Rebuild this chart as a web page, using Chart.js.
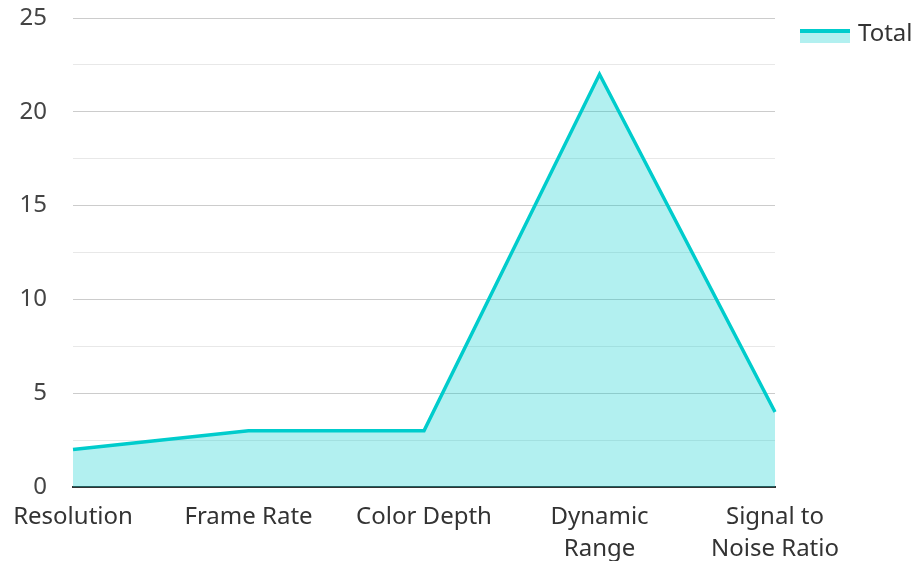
<!DOCTYPE html>
<html>
<head>
<meta charset="utf-8">
<script src="https://cdn.jsdelivr.net/npm/chart.js@4"></script>
<style>
  body { margin: 0; background: #fff; }
  #wrap { width: 915px; height: 561px; }
</style>
</head>
<body>
<div id="wrap"><canvas id="chart" width="915" height="561"></canvas></div>
<script>
const categories = ["Resolution", ["Frame Rate"], ["Color Depth"], ["Dynamic", "Range"], ["Signal to", "Noise Ratio"]];
const totalValues = [2, 3, 3, 22, 4];
const seriesName = "Total";

const lineColor = "#00cccc";
const fillColor = "rgba(0, 204, 204, 0.3)";
const fontFamily = "'Noto Sans', 'Open Sans', sans-serif";

Chart.defaults.font.family = fontFamily;
Chart.defaults.font.size = 24;
Chart.defaults.font.lineHeight = 1.3;
Chart.defaults.color = "#333";

// simple legend on the right: light box with a thick line on top, then the label
const sideLegend = {
  id: "sideLegend",
  afterDraw(chart) {
    const g = chart.ctx;
    const x = chart.chartArea.right + 25;
    const y = 29;
    g.save();
    chart.data.datasets.forEach((ds, i) => {
      const top = y + i * 36;
      g.fillStyle = ds.backgroundColor;
      g.fillRect(x, top, 50, 14);
      g.fillStyle = ds.borderColor;
      g.fillRect(x, top, 50, 4);
      g.fillStyle = "#333";
      g.font = "24px " + fontFamily;
      g.textBaseline = "middle";
      g.textAlign = "left";
      g.fillText(ds.label, x + 58, top + 5);
    });
    g.restore();
  }
};

new Chart(document.getElementById("chart"), {
  type: "line",
  data: {
    labels: categories,
    datasets: [{
      label: seriesName,
      data: totalValues,
      borderColor: lineColor,
      backgroundColor: fillColor,
      borderWidth: 3.5,
      fill: "origin",
      tension: 0,
      pointRadius: 0,
      pointHoverRadius: 0
    }]
  },
  plugins: [sideLegend],
  options: {
    responsive: false,
    animation: false,
    layout: { padding: { top: 0, left: 0, right: 140, bottom: 0 } },
    plugins: {
      tooltip: { enabled: false },
      legend: { display: false }
    },
    scales: {
      x: {
        offset: false,
        grid: { display: false },
        border: { display: true, color: "#333", width: 2 },
        ticks: { color: "#333", padding: 7, maxRotation: 0, autoSkip: false },
        afterFit: (s) => { s.height = 74; s.paddingLeft = 0; s.paddingRight = 0; }
      },
      y: {
        min: 0,
        max: 25,
        border: { display: false },
        grid: {
          drawTicks: false,
          color: (ctx) => (ctx.tick && ctx.tick.value % 5 === 0 ? "#cccccc" : "#e8e8e8"),
          lineWidth: 1
        },
        ticks: {
          stepSize: 2.5,
          padding: 26,
          color: "#444",
          callback: (v) => (v % 5 === 0 ? v : "")
        },
        afterFit: (s) => { s.width = 73; s.paddingTop = 18; s.paddingBottom = 0; }
      }
    }
  }
});
</script>
</body>
</html>
